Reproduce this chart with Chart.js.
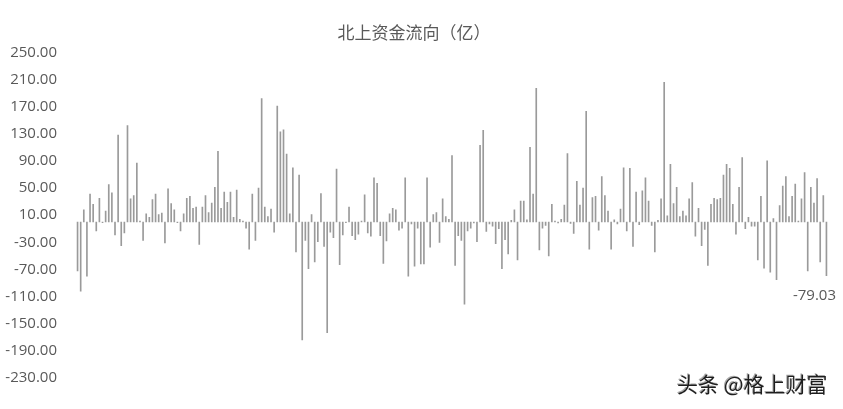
<!DOCTYPE html>
<html lang="zh">
<head>
<meta charset="UTF-8">
<script src="https://cdn.jsdelivr.net/npm/chart.js"></script>
<title>北上资金流向</title>
<style>
    body { margin: 0; background: #fff; }
    #wrap { position: relative; width: 843px; height: 409px; }
    #mark {
        position: absolute; left: 677px; top: 369px;
        font-family: "Noto Sans CJK SC"; font-size: 21px; color: #1e1e1e;
        text-shadow: 1px 1px 0 #fff, -1px -1px 0 #aaa;
        white-space: nowrap; line-height: 28px;
    }
</style>
</head>
<body>
<div id="wrap">
    <canvas id="flow" width="843" height="409"></canvas>
    <div id="mark">头条 @格上财富</div>
</div>
<script>
    // daily northbound net flow (亿)
    const flow = [
        -72, -102, 18, -80, 41, 26, -13, 35, -1, 16, 55, 43, -19, 128, -35, -16, 142, 34, 39, 87,
        1.5, -27, 12, 7, 33, 41, 11, 13, -31, 49, 27, 18, -1,
        -13, 12, 35, 38, 20, 22, -33, 22, 39, 14, 28, 51, 104, 20, 44, 29, 44, 7, 47, 4,
        1.5, -9, -40, 41, -27, 50, 182, 22, 8, 19, -15, 171, 133, 136, 100, 12,
        80, -44, 69, -174, -27, -69, 11, -59, -29, 42, -36, -163, -15, -23, 78, -63, -19, -1,
        22, -20, -26, -18, 1.5, 40, -16, -21, 65, 57, -20, -61, -28, 12, 20, 18, -12,
        -9, 65, -80, -3, -65, -9, -62, -62, 65, -37, 11, 14, -30, 34, 8, 4, 98, -64, -20, -27,
        -121, -13, -9, -1.5, -29, 113, 135, -14, -3, -6, -32, -10, -69, -26, -47,
        2.5, 18, -56, 31, 31, 3, 110, 41, 197, -41, -9, -5, -50, 26, 1.5, -1.5, 4, 25, 101, -2,
        -17, 60, 25, 50, 163, -40, 36, 38, -12, 67, 39, 16, -40, 3, -3,
        19, 80, -13, 79, -36, 44, -4, 46, 65, 31, -5, -44, 2.5, 34, 206, 9, 85, 27, 51, 8,
        16, 9, 34, 58, -21, 20, -35, -11, -64, 26, 35, 33, 35, 69, 85, 79,
        26, -18, 51, 95, -10, 7, -6, -6, -56, 38, -68, 90, -74, 5, -85, 24, 53, 67, 8, 38,
        56, 1.5, 34, 73, -72, 51, 28, 64, -59, 39, -79.03
    ];
    const days = flow.map((v, i) => String(i + 1));
    const yTicks = [250, 210, 170, 130, 90, 50, 10, -30, -70, -110, -150, -190, -230];

    const lastLabel = {
        id: 'lastLabel',
        afterDatasetsDraw(chart) {
            const bars = chart.getDatasetMeta(0).data;
            const bar = bars[bars.length - 1];
            const ctx = chart.ctx;
            ctx.save();
            ctx.font = '15px "Open Sans"';
            ctx.fillStyle = '#595959';
            ctx.textAlign = 'center';
            ctx.textBaseline = 'middle';
            ctx.fillText(flow[flow.length - 1].toFixed(2), bar.x - 12, bar.y + 20);
            ctx.restore();
        }
    };

    new Chart(document.getElementById('flow'), {
        type: 'bar',
        data: {
            labels: days,
            datasets: [{
                data: flow,
                backgroundColor: '#9a9a9a',
                barThickness: 1
            }]
        },
        options: {
            responsive: false,
            animation: false,
            layout: { padding: { top: 0, left: 0, right: 15, bottom: 31 } },
            plugins: {
                legend: { display: false },
                tooltip: { enabled: false },
                title: {
                    display: true,
                    text: '北上资金流向（亿）',
                    color: '#595959',
                    font: { family: 'Noto Sans CJK SC', size: 17, weight: 'normal' },
                    padding: { top: 22, bottom: 10 }
                }
            },
            scales: {
                x: { display: false },
                y: {
                    min: -230,
                    max: 250,
                    grid: { display: false, drawTicks: false },
                    border: { display: false },
                    afterBuildTicks(scale) {
                        scale.ticks = yTicks.map(v => ({ value: v }));
                    },
                    afterFit(scale) { scale.width = 76; },
                    ticks: {
                        padding: 19,
                        color: '#595959',
                        font: { family: 'Open Sans', size: 15 },
                        callback: v => v.toFixed(2)
                    }
                }
            }
        },
        plugins: [lastLabel]
    });
</script>
</body>
</html>
